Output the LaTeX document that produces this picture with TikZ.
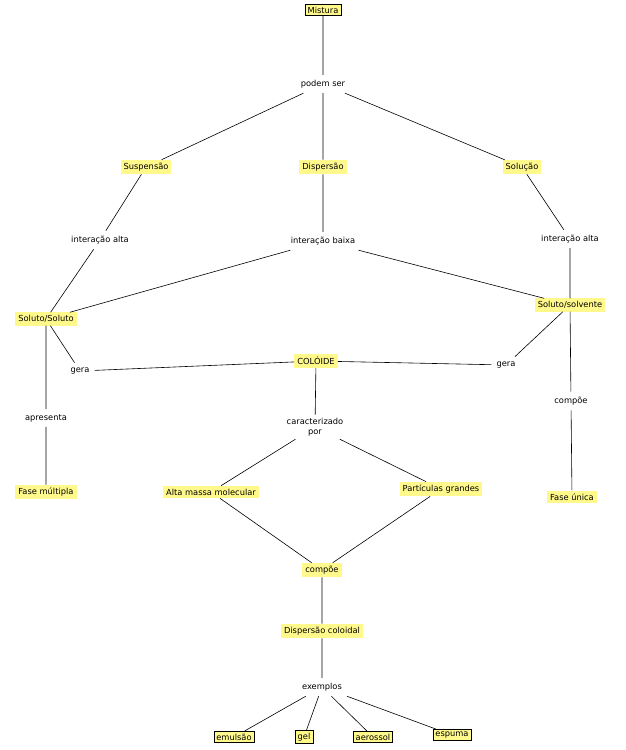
\documentclass[tikz,border=0pt]{standalone}
\usepackage{fontspec}
\setmainfont{DejaVu Sans}
\begin{document}
\begin{tikzpicture}[x=1pt,y=-1pt,font=\fontsize{8.3}{10}\selectfont,
 c/.style={fill=yellow!45,inner sep=3pt},
 cb/.style={c,draw=black,line width=0.6pt,inner sep=2.5pt},
 l/.style={inner sep=5pt,align=center},
 e/.style={line width=0.6pt}]
\useasboundingbox (0,0) rectangle (625,750);
\node[cb] (mis) at (323,10) {Mistura};
\node[l] (pod) at (323,84) {podem ser};
\node[c] (sus) at (146,167) {Suspensão};
\node[c] (dis) at (323,167) {Dispersão};
\node[c] (sol) at (522,167) {Solução};
\node[l] (ial) at (100,240) {interação alta};
\node[l] (ib) at (323,241) {interação baixa};
\node[l] (iar) at (570,239) {interação alta};
\node[c] (ss) at (46,319) {Soluto/Soluto};
\node[c] (sv) at (570,305) {Soluto/solvente};
\node[l] (gl) at (80,371) {gera};
\node[c] (col) at (316,361) {COLÓIDE};
\node[l] (gr) at (506,365) {gera};
\node[l] (apr) at (46,418) {apresenta};
\node[l,inner sep=3pt] (car) at (315,427) {caracterizado\\por};
\node[l] (cpr) at (571,401) {compõe};
\node[c] (fm) at (46,492) {Fase múltipla};
\node[c] (amm) at (211,492) {Alta massa molecular};
\node[c] (pg) at (441,489) {Partículas grandes};
\node[c] (fu) at (572,497) {Fase única};
\node[c] (cp) at (322,570) {compõe};
\node[c] (dc) at (322,631) {Dispersão coloidal};
\node[l] (ex) at (322,687) {exemplos};
\node[cb] (emu) at (234,737) {emulsão};
\node[cb] (gel) at (304,737) {gel};
\node[cb] (aer) at (373,737) {aerossol};
\node[cb] (esp) at (452,735) {espuma};
\draw[e] (mis)--(pod) (pod)--(sus) (pod)--(dis) (pod)--(sol)
 (sus)--(ial) (ial)--(ss) (dis)--(ib) (ib)--(ss) (ib)--(sv)
 (sol)--(iar) (iar)--(sv) (ss)--(gl) (gl)--(col) (sv)--(gr) (gr)--(col)
 (ss)--(apr) (apr)--(fm) (sv)--(cpr) (cpr)--(fu)
 (col)--(car) (car)--(amm) (car)--(pg) (amm)--(cp) (pg)--(cp)
 (cp)--(dc) (dc)--(ex) (ex)--(emu) (ex)--(gel) (ex)--(aer) (ex)--(esp);
\end{tikzpicture}
\end{document}
